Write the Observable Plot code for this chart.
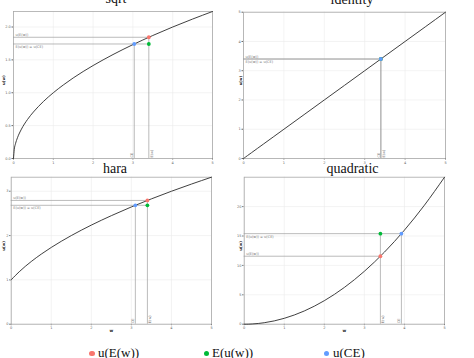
<!DOCTYPE html>
<html>
<head>
<meta charset="utf-8">
<script src="https://cdn.jsdelivr.net/npm/d3@7"></script>
<script src="https://cdn.jsdelivr.net/npm/@observablehq/plot@0.6"></script>
<style>
  body { margin: 0; background: white; }
  #c { position: relative; width: 474px; height: 358px; overflow: hidden; background: white; }
  .panel { position: absolute; }
  .title { position: absolute; font-family: "Liberation Serif", serif; font-size: 14px; line-height: 14px; white-space: nowrap; transform: translateX(-50%); color: #111; }
  .leg { position: absolute; font-family: "Liberation Serif", serif; font-size: 13px; line-height: 13px; white-space: nowrap; color: #111; }
  .dot { position: absolute; width: 5.4px; height: 5.4px; border-radius: 50%; }
</style>
</head>
<body>
<div id="c"></div>
<script>
// ---- data ----
const titles = ["sqrt", "identity", "hara", "quadratic"];
const wGrid = [0, 0.02, 0.05, 0.1, 0.2, 0.35, 0.5, 0.75, 1, 1.25, 1.5, 2, 2.5, 3, 3.5, 4, 4.5, 5];
const uSqrt = [0, 0.141, 0.224, 0.316, 0.447, 0.592, 0.707, 0.866, 1, 1.118, 1.225, 1.414, 1.581, 1.732, 1.871, 2, 2.121, 2.236];
const uIdentity = [0, 0.02, 0.05, 0.1, 0.2, 0.35, 0.5, 0.75, 1, 1.25, 1.5, 2, 2.5, 3, 3.5, 4, 4.5, 5];
const uHara = [1, 1.02, 1.049, 1.095, 1.183, 1.304, 1.414, 1.581, 1.732, 1.871, 2, 2.236, 2.449, 2.646, 2.828, 3, 3.162, 3.317];
const uQuadratic = [0, 0.0004, 0.0025, 0.01, 0.04, 0.1225, 0.25, 0.5625, 1, 1.5625, 2.25, 4, 6.25, 9, 12.25, 16, 20.25, 25];

// E(w), u(E(w)), E(u(w)), CE for each panel
const Ew  = [3.4, 3.4, 3.4, 3.4];
const uEw = [1.844, 3.4, 2.793, 11.56];
const Eu  = [1.742, 3.4, 2.683, 15.4];
const CE  = [3.034, 3.4, 3.099, 3.924];

const xTicks = [0, 1, 2, 3, 4, 5];
const yTicksSqrt = [0, 0.5, 1, 1.5, 2];
const yTicksIdentity = [0, 1, 2, 3, 4, 5];
const yTicksHara = [0, 1, 2, 3];
const yTicksQuadratic = [0, 5, 10, 15, 20];

const legendLabels = ["u(E(w))", "E(u(w))", "u(CE)"];
const legendColors = ["#F8766D", "#00BA38", "#619CFF"];

// ---- layout ----
const curves = [uSqrt, uIdentity, uHara, uQuadratic];
const yTicks = [yTicksSqrt, yTicksIdentity, yTicksHara, yTicksQuadratic];
const yFormats = [d3.format(".1f"), d3.format("d"), d3.format("d"), d3.format("d")];
const panels = [
  {left: 0,   top: 0,   mL: 13,  mR: 25, mT: 11,  mB: 12},
  {left: 237, top: 0,   mL: 6,   mR: 29, mT: 11.7, mB: 12},
  {left: 0,   top: 170, mL: 10.7, mR: 26, mT: 6.7, mB: 16.3},
  {left: 237, top: 170, mL: 6.7, mR: 30, mT: 6.7, mB: 16.3}
];
const titlePos = [[116, -7.7], [352, -7.2], [115, 162.3], [352.5, 162.3]];

const c = document.getElementById("c");
const lineCol = "#9d9d9d";

panels.forEach((p, i) => {
  const curve = wGrid.map((w, k) => ({w, u: curves[i][k]}));
  const yMax = d3.max(curves[i]);
  const xMaxPt = Math.max(Ew[i], CE[i]);
  const yTop = Math.max(uEw[i], Eu[i]);
  const hRules = [
    {y: uEw[i], x1: 0, x2: Ew[i]},
    {y: Eu[i], x1: 0, x2: xMaxPt}
  ];
  const vRules = [
    {x: Ew[i], y1: 0, y2: yTop},
    {x: CE[i], y1: 0, y2: Eu[i]}
  ];
  const pts = [
    {x: Ew[i], y: uEw[i], c: legendColors[0]},
    {x: Ew[i], y: Eu[i], c: legendColors[1]},
    {x: CE[i], y: Eu[i], c: legendColors[2]}
  ];
  const marks = [
    Plot.ruleX(xTicks, {stroke: "#ebebeb", strokeWidth: 0.6}),
    Plot.ruleY(yTicks[i], {stroke: "#ebebeb", strokeWidth: 0.6}),
    Plot.frame({stroke: "#a8a8a8", strokeWidth: 0.8}),
    Plot.ruleY(hRules, {y: "y", x1: "x1", x2: "x2", stroke: lineCol, strokeWidth: 0.7}),
    Plot.ruleX(vRules, {x: "x", y1: "y1", y2: "y2", stroke: lineCol, strokeWidth: 0.7}),
    Plot.line(curve, {x: "w", y: "u", curve: "monotone-x", stroke: "#2a2a2a", strokeWidth: 0.9}),
    Plot.text([{y: uEw[i], t: "u(E(w))"}], {x: 0, y: "y", text: "t", dx: 2, dy: -2.5, textAnchor: "start", fontSize: 3.5, fill: "#777"}),
    Plot.text([{y: Eu[i], t: "E(u(w)) = u(CE)"}], {x: 0, y: "y", text: "t", dx: 2, dy: 2.8, textAnchor: "start", fontSize: 3.5, fill: "#777"}),
    Plot.text([{x: CE[i], t: "CE"}], {x: "x", y: 0, text: "t", rotate: -90, textAnchor: "start", dx: -2.3, dy: -1, fontSize: 3.5, fill: "#777"}),
    Plot.text([{x: Ew[i], t: "E(w)"}], {x: "x", y: 0, text: "t", rotate: -90, textAnchor: "start", dx: 2.6, dy: -1, fontSize: 3.5, fill: "#777"}),
    Plot.dot(pts, {x: "x", y: "y", fill: "c", r: 1.9}),
    Plot.text(["u(w)"], {text: d => d, frameAnchor: "left", rotate: -90, dx: -p.mL + 3, fontSize: 3.8, fontWeight: "bold", fill: "#222"})
  ];
  if (i >= 2) {
    marks.push(Plot.text(["w"], {text: d => d, frameAnchor: "bottom", dy: 7.5, fontSize: 4, fontWeight: "bold", fill: "#222"}));
  }
  const svg = Plot.plot({
    width: 237,
    height: 170,
    marginLeft: p.mL,
    marginRight: p.mR,
    marginTop: p.mT,
    marginBottom: p.mB,
    x: {domain: [0, 5], ticks: xTicks, tickSize: 1.5, tickPadding: 1.2, tickFormat: d3.format("d"), label: null},
    y: {domain: [0, yMax], ticks: yTicks[i], tickSize: 1.5, tickPadding: 1.2, tickFormat: yFormats[i], label: null},
    style: {fontSize: "3.5px", fontFamily: "DejaVu Sans, sans-serif", color: "#666", background: "transparent", overflow: "visible"},
    marks
  });
  svg.classList.add("panel");
  svg.style.left = p.left + "px";
  svg.style.top = p.top + "px";
  c.appendChild(svg);

  const t = document.createElement("div");
  t.className = "title";
  t.textContent = titles[i];
  t.style.left = titlePos[i][0] + "px";
  t.style.top = titlePos[i][1] + "px";
  c.appendChild(t);
});

// legend
const legDotX = [92, 206.7, 326.7];
const legTextX = [98, 212, 333];
legendLabels.forEach((lab, k) => {
  const d = document.createElement("div");
  d.className = "dot";
  d.style.background = legendColors[k];
  d.style.left = (legDotX[k] - 2.7) + "px";
  d.style.top = (353.3 - 2.7) + "px";
  c.appendChild(d);
  const s = document.createElement("div");
  s.className = "leg";
  s.textContent = lab;
  s.style.left = legTextX[k] + "px";
  s.style.top = "345.6px";
  c.appendChild(s);
});
</script>
</body>
</html>
